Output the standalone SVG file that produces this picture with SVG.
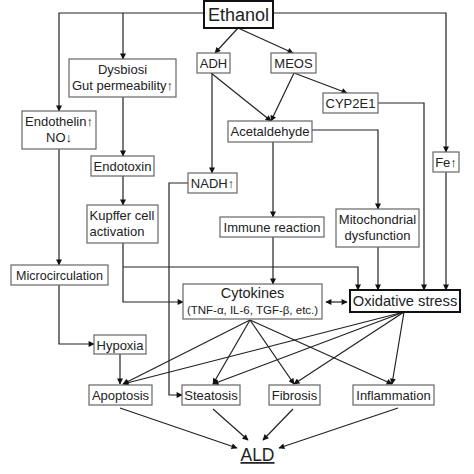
<svg xmlns="http://www.w3.org/2000/svg" width="474" height="474" viewBox="0 0 474 474">
<defs>
<marker id="ah" viewBox="0 0 10 10" refX="9" refY="5" markerWidth="7" markerHeight="6" markerUnits="userSpaceOnUse" orient="auto">
<path d="M0,0 L10,5 L0,10 z" fill="#111"/>
</marker>
<marker id="ahs" viewBox="0 0 10 10" refX="9" refY="5" markerWidth="7" markerHeight="6" markerUnits="userSpaceOnUse" orient="auto-start-reverse">
<path d="M0,0 L10,5 L0,10 z" fill="#111"/>
</marker>
</defs>
<style>
rect.b{fill:#fff;stroke:#666;stroke-width:1.2}
rect.k{fill:#fff;stroke:#111;stroke-width:2}
text{font-family:"Liberation Sans",Arial,sans-serif;fill:#222;text-anchor:middle;font-size:13px}
#connectors path{fill:none;stroke:#222;stroke-width:1.2;marker-end:url(#ah)}
</style>
<rect width="474" height="474" fill="#fff"/>
<g id="connectors">
<path d="M204,13 H59 V111"/>
<path d="M123,13 V59"/>
<path d="M273,13 H446 V152"/>
<path d="M238,28 L215,53"/>
<path d="M238,28 L293,53"/>
<path d="M294,73 L347,93"/>
<path d="M294,73 L271,121"/>
<path d="M211,73 L271,121"/>
<path d="M212,73 V173"/>
<path d="M312,130 H378 V209"/>
<path d="M273,142 V217"/>
<path d="M378,103 H424 V290"/>
<path d="M446,172 V290"/>
<path d="M378,247 V290"/>
<path d="M273,237 V284"/>
<path d="M123,97 V156"/>
<path d="M123,176 V205"/>
<path d="M123,243 V302 H183"/>
<path d="M123,267 H358 V290"/>
<path d="M59,149 V265"/>
<path d="M59,285 V344 H94"/>
<path d="M120,354 V384"/>
<path d="M188,183 H169 V395 H182"/>
<path d="M326,302 H347" style="marker-start:url(#ahs)"/>
<path d="M250,320 L123,384"/>
<path d="M250,320 L213,384"/>
<path d="M250,320 L294,384"/>
<path d="M250,320 L392,384"/>
<path d="M404,312 L123,384"/>
<path d="M404,312 L213,384"/>
<path d="M404,312 L294,384"/>
<path d="M404,312 L392,384"/>
<path d="M120,408 L237,448"/>
<path d="M213,409 L248,440"/>
<path d="M293,409 L263,440"/>
<path d="M398,408 L279,448"/>
</g>
<g id="ethanol"><rect class="k" x="204" y="1" width="69" height="27"/><text x="238.5" y="21" style="font-size:18px">Ethanol</text></g>
<g id="dysbiosi"><rect class="b" x="69" y="59" width="107" height="38"/><text x="122.5" y="74">Dysbiosi</text><text x="122.5" y="90">Gut permeability↑</text></g>
<g id="endothelin"><rect class="b" x="22" y="111" width="74" height="38"/><text x="59" y="126">Endothelin↑</text><text x="59" y="142">NO↓</text></g>
<g id="adh"><rect class="b" x="197" y="53" width="33" height="20"/><text x="213.5" y="68">ADH</text></g>
<g id="meos"><rect class="b" x="271" y="53" width="45" height="20"/><text x="293.5" y="68">MEOS</text></g>
<g id="cyp2e1"><rect class="b" x="323" y="93" width="55" height="20"/><text x="350.5" y="108">CYP2E1</text></g>
<g id="acetaldehyde"><rect class="b" x="228" y="121" width="84" height="21"/><text x="270" y="136">Acetaldehyde</text></g>
<g id="fe"><rect class="b" x="433" y="152" width="26" height="20"/><text x="446" y="167">Fe↑</text></g>
<g id="endotoxin"><rect class="b" x="91" y="156" width="63" height="20"/><text x="122.5" y="171">Endotoxin</text></g>
<g id="nadh"><rect class="b" x="188" y="173" width="49" height="20"/><text x="212.5" y="188">NADH↑</text></g>
<g id="kupffer"><rect class="b" x="87" y="205" width="71" height="38"/><text x="89.5" y="220" style="text-anchor:start">Kupffer cell</text><text x="89.5" y="236" style="text-anchor:start">activation</text></g>
<g id="immune"><rect class="b" x="220" y="217" width="104" height="20"/><text x="272" y="232">Immune reaction</text></g>
<g id="mito"><rect class="b" x="336" y="209" width="83" height="38"/><text x="377.5" y="224">Mitochondrial</text><text x="377.5" y="240">dysfunction</text></g>
<g id="microcirculation"><rect class="b" x="11" y="265" width="97" height="20"/><text x="59.5" y="280" style="font-size:12.5px">Microcirculation</text></g>
<g id="cytokines"><rect class="b" x="183" y="284" width="139" height="35"/><text x="252.5" y="298" style="font-size:14.5px">Cytokines</text><text x="252.5" y="314" style="font-size:11.5px">(TNF-α, IL-6, TGF-β, etc.)</text></g>
<g id="oxidative"><rect class="k" x="350" y="290" width="110" height="22"/><text x="405" y="306" style="font-size:14.7px">Oxidative stress</text></g>
<g id="hypoxia"><rect class="b" x="94" y="335" width="52" height="19"/><text x="120" y="350">Hypoxia</text></g>
<g id="apoptosis"><rect class="b" x="89" y="385" width="63" height="20"/><text x="120.5" y="400">Apoptosis</text></g>
<g id="steatosis"><rect class="b" x="182" y="385" width="58" height="20"/><text x="211" y="400">Steatosis</text></g>
<g id="fibrosis"><rect class="b" x="269" y="385" width="51" height="20"/><text x="294.5" y="400">Fibrosis</text></g>
<g id="inflammation"><rect class="b" x="353" y="385" width="81" height="20"/><text x="393.5" y="400">Inflammation</text></g>
<g id="ald"><text x="257.5" y="461" style="font-size:17.5px;text-decoration:underline">ALD</text></g>
</svg>
